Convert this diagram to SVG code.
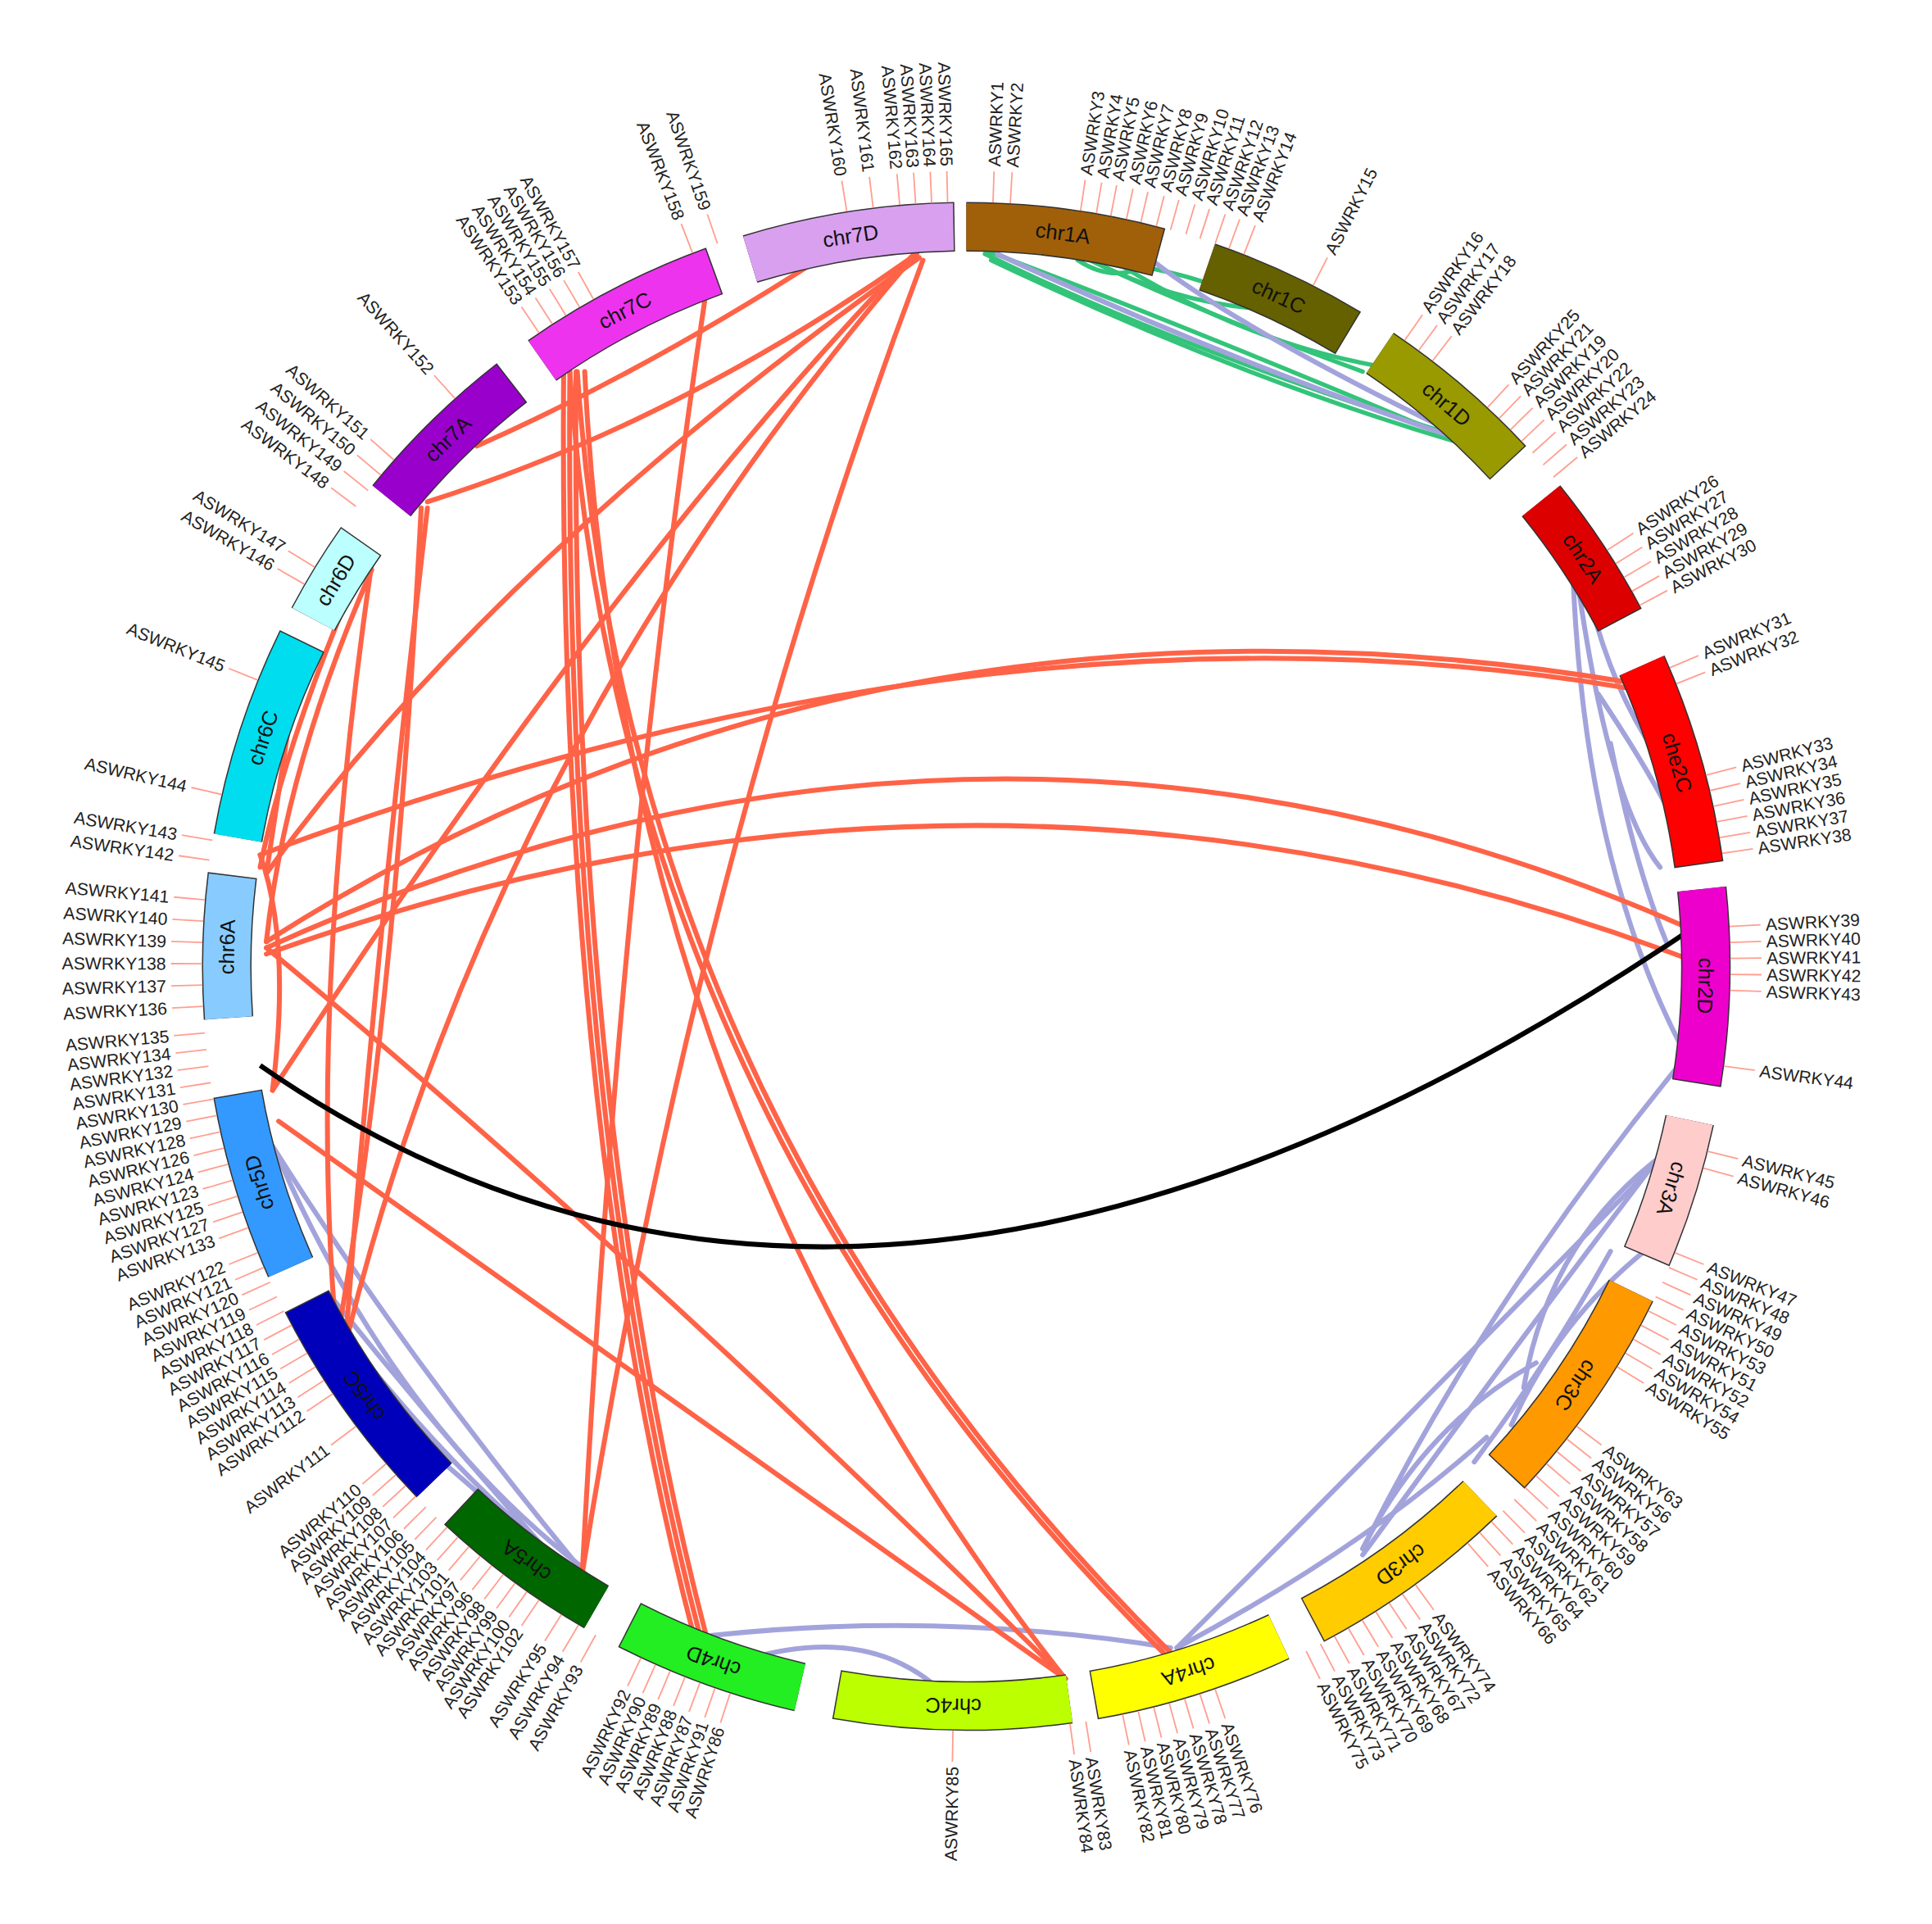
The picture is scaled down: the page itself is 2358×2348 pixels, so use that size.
<svg xmlns="http://www.w3.org/2000/svg" width="2358" height="2348" viewBox="0 0 2358 2348">
<style>
.t{font-family:"Liberation Sans",Arial,sans-serif;font-size:14px;fill:#222;dominant-baseline:central}
.l{text-anchor:end}
.tk{stroke:#ff9f90;stroke-width:1.2}
.cl{font-family:"Liberation Sans",Arial,sans-serif;font-size:17px;fill:#111;text-anchor:middle;dominant-baseline:central}
.blk{fill:none;stroke-width:38}
.bd{fill:none;stroke:#333;stroke-width:40}
.o{fill:none;stroke:#ff6347;stroke-width:4;stroke-linecap:round}
.v{fill:none;stroke:#a3a3dc;stroke-width:4;stroke-linecap:round}
.g{fill:none;stroke:#33c47a;stroke-width:3.5;stroke-linecap:round}
.k{fill:none;stroke:#000;stroke-width:4}
</style>
<rect width="2358" height="2348" fill="#fff"/>
<g transform="scale(1.512)">
<g id="connectors">
<path class="g" d="M790,200 Q950,260 1175,355"/>
<path class="g" d="M795,205 Q960,285 1170,350"/>
<path class="g" d="M800,210 Q1000,305 1180,358"/>
<path class="g" d="M870,205 Q950,245 1100,300"/>
<path class="g" d="M880,210 Q960,250 1040,250"/>
<path class="g" d="M920,215 Q980,225 1020,250"/>
<path class="g" d="M890,205 Q1000,275 1110,295"/>
<path class="g" d="M870,210 Q900,230 930,212"/>
<path class="v" d="M805,205 Q1000,295 1180,355"/>
<path class="v" d="M930,210 Q1000,265 1175,350"/>
<path class="v" d="M1270,470 Q1280,700 1360,850"/>
<path class="v" d="M1275,480 Q1300,650 1340,700"/>
<path class="v" d="M1280,470 Q1300,560 1345,620"/>
<path class="v" d="M1290,560 Q1330,620 1350,660"/>
<path class="v" d="M1300,600 Q1320,700 1345,760"/>
<path class="v" d="M1355,860 Q1200,1050 1100,1250"/>
<path class="v" d="M1350,920 Q1250,1050 1100,1255"/>
<path class="v" d="M1350,925 Q1180,1100 950,1330"/>
<path class="v" d="M1345,930 Q1250,1000 1230,1120"/>
<path class="v" d="M1340,1000 Q1260,1060 1220,1150"/>
<path class="v" d="M1300,1010 Q1250,1100 1190,1180"/>
<path class="v" d="M1240,1100 Q1150,1150 1100,1250"/>
<path class="v" d="M950,1330 Q1100,1250 1200,1160"/>
<path class="v" d="M575,1320 Q760,1300 945,1330"/>
<path class="v" d="M600,1340 Q700,1310 760,1365"/>
<path class="v" d="M220,925 Q330,1100 480,1280"/>
<path class="v" d="M225,935 Q320,1150 470,1265"/>
<path class="v" d="M270,1050 Q350,1150 440,1250"/>
<path class="v" d="M280,1080 Q360,1180 430,1240"/>
<path class="v" d="M300,1130 Q380,1200 450,1260"/>
<path class="o" d="M663,208 Q520,300 385,360"/>
<path class="o" d="M740,205 Q550,340 345,405"/>
<path class="o" d="M742,208 Q400,450 215,705"/>
<path class="o" d="M738,205 Q500,450 220,880"/>
<path class="o" d="M735,210 Q400,600 280,1080"/>
<path class="o" d="M745,210 Q560,700 470,1270"/>
<path class="o" d="M570,235 Q500,700 470,1270"/>
<path class="o" d="M455,300 Q450,900 560,1320"/>
<path class="o" d="M460,300 Q455,900 565,1320"/>
<path class="o" d="M465,300 Q460,900 570,1320"/>
<path class="o" d="M460,300 Q500,900 940,1335"/>
<path class="o" d="M466,300 Q506,900 946,1335"/>
<path class="o" d="M472,300 Q500,900 860,1355"/>
<path class="o" d="M1310,550 Q700,450 215,760"/>
<path class="o" d="M1312,555 Q800,470 210,690"/>
<path class="o" d="M1365,750 Q800,500 215,765"/>
<path class="o" d="M1365,775 Q800,560 215,770"/>
<path class="o" d="M215,765 Q500,1000 860,1355"/>
<path class="o" d="M225,905 Q500,1100 860,1355"/>
<path class="o" d="M300,455 Q250,800 270,1060"/>
<path class="o" d="M345,410 Q300,800 280,1070"/>
<path class="o" d="M340,410 Q320,800 275,1065"/>
<path class="o" d="M240,540 Q225,640 215,705"/>
<path class="o" d="M290,460 Q230,600 210,700"/>
<path class="o" d="M300,460 Q230,620 215,760"/>
<path class="o" d="M210,690 Q235,760 220,880"/>
<path class="k" d="M1365,750 Q700,1200 210,860"/>
</g>
<g transform="translate(780,780)">
<g id="chr1A"><circle class="bd" r="597" stroke-dasharray="158.3 4000" stroke-dashoffset="1" transform="rotate(-90)"/><circle class="blk" r="597" stroke="#a0600a" stroke-dasharray="156.3 4000" transform="rotate(-90)"/><text class="cl" y="-597" transform="rotate(7.5)">chr1A</text></g>
<g id="chr1C"><circle class="bd" r="597" stroke-dasharray="127 4000" stroke-dashoffset="1" transform="rotate(-71)"/><circle class="blk" r="597" stroke="#656000" stroke-dasharray="125 4000" transform="rotate(-71)"/><text class="cl" y="-597" transform="rotate(25)">chr1C</text></g>
<g id="chr1D"><circle class="bd" r="597" stroke-dasharray="137.5 4000" stroke-dashoffset="1" transform="rotate(-56)"/><circle class="blk" r="597" stroke="#999900" stroke-dasharray="135.5 4000" transform="rotate(-56)"/><text class="cl" y="-597" transform="rotate(40.5)">chr1D</text></g>
<g id="chr2A"><circle class="bd" r="597" stroke-dasharray="116.6 4000" stroke-dashoffset="1" transform="rotate(-39)"/><circle class="blk" r="597" stroke="#dd0000" stroke-dasharray="114.6 4000" transform="rotate(-39)"/><text class="cl" y="-597" transform="rotate(56.5)">chr2A</text></g>
<g id="chr2C"><circle class="bd" r="597" stroke-dasharray="168.7 4000" stroke-dashoffset="1" transform="rotate(-24)"/><circle class="blk" r="597" stroke="#ff0000" stroke-dasharray="166.7 4000" transform="rotate(-24)"/><text class="cl" y="-597" transform="rotate(74)">che2C</text></g>
<g id="chr2D"><circle class="bd" r="597" stroke-dasharray="158.3 4000" stroke-dashoffset="1" transform="rotate(-6)"/><circle class="blk" r="597" stroke="#ee00cc" stroke-dasharray="156.3 4000" transform="rotate(-6)"/><text class="cl" y="-597" transform="rotate(91.5)">chr2D</text></g>
<g id="chr3A"><circle class="bd" r="597" stroke-dasharray="116.6 4000" stroke-dashoffset="1" transform="rotate(12)"/><circle class="blk" r="597" stroke="#ffcccc" stroke-dasharray="114.6 4000" transform="rotate(12)"/><text class="cl" y="-597" transform="rotate(107.5)">chr3A</text></g>
<g id="chr3C"><circle class="bd" r="597" stroke-dasharray="179.1 4000" stroke-dashoffset="1" transform="rotate(26)"/><circle class="blk" r="597" stroke="#ff9900" stroke-dasharray="177.1 4000" transform="rotate(26)"/><text class="cl" y="-597" transform="rotate(124.5)">chr3C</text></g>
<g id="chr3D"><circle class="bd" r="597" stroke-dasharray="168.7 4000" stroke-dashoffset="1" transform="rotate(46)"/><circle class="blk" r="597" stroke="#ffcc00" stroke-dasharray="166.7 4000" transform="rotate(46)"/><text class="cl" y="-597" transform="rotate(144)">chr3D</text></g>
<g id="chr4A"><circle class="bd" r="597" stroke-dasharray="158.3 4000" stroke-dashoffset="1" transform="rotate(65)"/><circle class="blk" r="597" stroke="#ffff00" stroke-dasharray="156.3 4000" transform="rotate(65)"/><text class="cl" y="-597" transform="rotate(162.5)">chr4A</text></g>
<g id="chr4C"><circle class="bd" r="597" stroke-dasharray="189.6 4000" stroke-dashoffset="1" transform="rotate(82)"/><circle class="blk" r="597" stroke="#bbff00" stroke-dasharray="187.6 4000" transform="rotate(82)"/><text class="cl" y="-597" transform="rotate(181)">chr4C</text></g>
<g id="chr4D"><circle class="bd" r="597" stroke-dasharray="147.9 4000" stroke-dashoffset="1" transform="rotate(103)"/><circle class="blk" r="597" stroke="#22ee22" stroke-dasharray="145.9 4000" transform="rotate(103)"/><text class="cl" y="-597" transform="rotate(200)">chr4D</text></g>
<g id="chr5A"><circle class="bd" r="597" stroke-dasharray="137.5 4000" stroke-dashoffset="1" transform="rotate(120)"/><circle class="blk" r="597" stroke="#006600" stroke-dasharray="135.5 4000" transform="rotate(120)"/><text class="cl" y="-597" transform="rotate(216.5)">chr5A</text></g>
<g id="chr5C"><circle class="bd" r="597" stroke-dasharray="179.1 4000" stroke-dashoffset="1" transform="rotate(136)"/><circle class="blk" r="597" stroke="#0000bb" stroke-dasharray="177.1 4000" transform="rotate(136)"/><text class="cl" y="-597" transform="rotate(234.5)">chr5C</text></g>
<g id="chr5D"><circle class="bd" r="597" stroke-dasharray="147.9 4000" stroke-dashoffset="1" transform="rotate(156)"/><circle class="blk" r="597" stroke="#3399ff" stroke-dasharray="145.9 4000" transform="rotate(156)"/><text class="cl" y="-597" transform="rotate(253)">chr5D</text></g>
<g id="chr6A"><circle class="bd" r="597" stroke-dasharray="116.6 4000" stroke-dashoffset="1" transform="rotate(176)"/><circle class="blk" r="597" stroke="#88ccff" stroke-dasharray="114.6 4000" transform="rotate(176)"/><text class="cl" y="-597" transform="rotate(271.5)">chr6A</text></g>
<g id="chr6C"><circle class="bd" r="597" stroke-dasharray="168.7 4000" stroke-dashoffset="1" transform="rotate(190)"/><circle class="blk" r="597" stroke="#00ddee" stroke-dasharray="166.7 4000" transform="rotate(190)"/><text class="cl" y="-597" transform="rotate(288)">chr6C</text></g>
<g id="chr6D"><circle class="bd" r="597" stroke-dasharray="75 4000" stroke-dashoffset="1" transform="rotate(208)"/><circle class="blk" r="597" stroke="#bbffff" stroke-dasharray="73 4000" transform="rotate(208)"/><text class="cl" y="-597" transform="rotate(301.5)">chr6D</text></g>
<g id="chr7A"><circle class="bd" r="597" stroke-dasharray="137.5 4000" stroke-dashoffset="1" transform="rotate(219)"/><circle class="blk" r="597" stroke="#9900cc" stroke-dasharray="135.5 4000" transform="rotate(219)"/><text class="cl" y="-597" transform="rotate(315.5)">chr7A</text></g>
<g id="chr7C"><circle class="bd" r="597" stroke-dasharray="158.3 4000" stroke-dashoffset="1" transform="rotate(235)"/><circle class="blk" r="597" stroke="#ee33ee" stroke-dasharray="156.3 4000" transform="rotate(235)"/><text class="cl" y="-597" transform="rotate(332.5)">chr7C</text></g>
<g id="chr7D"><circle class="bd" r="597" stroke-dasharray="168.7 4000" stroke-dashoffset="1" transform="rotate(253)"/><circle class="blk" r="597" stroke="#d9a0f0" stroke-dasharray="166.7 4000" transform="rotate(253)"/><text class="cl" y="-597" transform="rotate(351)">chr7D</text></g>
<g id="labels-right">
<g transform="rotate(-88)"><line class="tk" x1="617" x2="642"/><text class="t" x="646">ASWRKY1</text></g>
<g transform="rotate(-86.7)"><line class="tk" x1="617" x2="642"/><text class="t" x="646">ASWRKY2</text></g>
<g transform="rotate(-81.4)"><line class="tk" x1="617" x2="642"/><text class="t" x="646">ASWRKY3</text></g>
<g transform="rotate(-80.2)"><line class="tk" x1="617" x2="642"/><text class="t" x="646">ASWRKY4</text></g>
<g transform="rotate(-79.1)"><line class="tk" x1="617" x2="642"/><text class="t" x="646">ASWRKY5</text></g>
<g transform="rotate(-77.9)"><line class="tk" x1="617" x2="642"/><text class="t" x="646">ASWRKY6</text></g>
<g transform="rotate(-76.8)"><line class="tk" x1="617" x2="642"/><text class="t" x="646">ASWRKY7</text></g>
<g transform="rotate(-75.6)"><line class="tk" x1="617" x2="642"/><text class="t" x="646">ASWRKY8</text></g>
<g transform="rotate(-74.5)"><line class="tk" x1="617" x2="642"/><text class="t" x="646">ASWRKY9</text></g>
<g transform="rotate(-73.3)"><line class="tk" x1="617" x2="642"/><text class="t" x="646">ASWRKY10</text></g>
<g transform="rotate(-72.2)"><line class="tk" x1="617" x2="642"/><text class="t" x="646">ASWRKY11</text></g>
<g transform="rotate(-71)"><line class="tk" x1="617" x2="642"/><text class="t" x="646">ASWRKY12</text></g>
<g transform="rotate(-69.9)"><line class="tk" x1="617" x2="642"/><text class="t" x="646">ASWRKY13</text></g>
<g transform="rotate(-68.7)"><line class="tk" x1="617" x2="642"/><text class="t" x="646">ASWRKY14</text></g>
<g transform="rotate(-63)"><line class="tk" x1="617" x2="642"/><text class="t" x="646">ASWRKY15</text></g>
<g transform="rotate(-55)"><line class="tk" x1="617" x2="642"/><text class="t" x="646">ASWRKY16</text></g>
<g transform="rotate(-53.7)"><line class="tk" x1="617" x2="642"/><text class="t" x="646">ASWRKY17</text></g>
<g transform="rotate(-52.4)"><line class="tk" x1="617" x2="642"/><text class="t" x="646">ASWRKY18</text></g>
<g transform="rotate(-47)"><line class="tk" x1="617" x2="642"/><text class="t" x="646">ASWRKY25</text></g>
<g transform="rotate(-45.8)"><line class="tk" x1="617" x2="642"/><text class="t" x="646">ASWRKY21</text></g>
<g transform="rotate(-44.6)"><line class="tk" x1="617" x2="642"/><text class="t" x="646">ASWRKY19</text></g>
<g transform="rotate(-43.4)"><line class="tk" x1="617" x2="642"/><text class="t" x="646">ASWRKY20</text></g>
<g transform="rotate(-42.2)"><line class="tk" x1="617" x2="642"/><text class="t" x="646">ASWRKY22</text></g>
<g transform="rotate(-41)"><line class="tk" x1="617" x2="642"/><text class="t" x="646">ASWRKY23</text></g>
<g transform="rotate(-39.8)"><line class="tk" x1="617" x2="642"/><text class="t" x="646">ASWRKY24</text></g>
<g transform="rotate(-33)"><line class="tk" x1="617" x2="642"/><text class="t" x="646">ASWRKY26</text></g>
<g transform="rotate(-31.8)"><line class="tk" x1="617" x2="642"/><text class="t" x="646">ASWRKY27</text></g>
<g transform="rotate(-30.6)"><line class="tk" x1="617" x2="642"/><text class="t" x="646">ASWRKY28</text></g>
<g transform="rotate(-29.4)"><line class="tk" x1="617" x2="642"/><text class="t" x="646">ASWRKY29</text></g>
<g transform="rotate(-28.2)"><line class="tk" x1="617" x2="642"/><text class="t" x="646">ASWRKY30</text></g>
<g transform="rotate(-23)"><line class="tk" x1="617" x2="642"/><text class="t" x="646">ASWRKY31</text></g>
<g transform="rotate(-21.7)"><line class="tk" x1="617" x2="642"/><text class="t" x="646">ASWRKY32</text></g>
<g transform="rotate(-14.5)"><line class="tk" x1="617" x2="642"/><text class="t" x="646">ASWRKY33</text></g>
<g transform="rotate(-13.3)"><line class="tk" x1="617" x2="642"/><text class="t" x="646">ASWRKY34</text></g>
<g transform="rotate(-12.1)"><line class="tk" x1="617" x2="642"/><text class="t" x="646">ASWRKY35</text></g>
<g transform="rotate(-10.9)"><line class="tk" x1="617" x2="642"/><text class="t" x="646">ASWRKY36</text></g>
<g transform="rotate(-9.7)"><line class="tk" x1="617" x2="642"/><text class="t" x="646">ASWRKY37</text></g>
<g transform="rotate(-8.5)"><line class="tk" x1="617" x2="642"/><text class="t" x="646">ASWRKY38</text></g>
<g transform="rotate(-3)"><line class="tk" x1="617" x2="642"/><text class="t" x="646">ASWRKY39</text></g>
<g transform="rotate(-1.8)"><line class="tk" x1="617" x2="642"/><text class="t" x="646">ASWRKY40</text></g>
<g transform="rotate(-0.6)"><line class="tk" x1="617" x2="642"/><text class="t" x="646">ASWRKY41</text></g>
<g transform="rotate(0.6)"><line class="tk" x1="617" x2="642"/><text class="t" x="646">ASWRKY42</text></g>
<g transform="rotate(1.8)"><line class="tk" x1="617" x2="642"/><text class="t" x="646">ASWRKY43</text></g>
<g transform="rotate(7.5)"><line class="tk" x1="617" x2="642"/><text class="t" x="646">ASWRKY44</text></g>
<g transform="rotate(14)"><line class="tk" x1="617" x2="642"/><text class="t" x="646">ASWRKY45</text></g>
<g transform="rotate(15.3)"><line class="tk" x1="617" x2="642"/><text class="t" x="646">ASWRKY46</text></g>
<g transform="rotate(22)"><line class="tk" x1="617" x2="642"/><text class="t" x="646">ASWRKY47</text></g>
<g transform="rotate(23.2)"><line class="tk" x1="617" x2="642"/><text class="t" x="646">ASWRKY48</text></g>
<g transform="rotate(24.4)"><line class="tk" x1="617" x2="642"/><text class="t" x="646">ASWRKY49</text></g>
<g transform="rotate(25.6)"><line class="tk" x1="617" x2="642"/><text class="t" x="646">ASWRKY50</text></g>
<g transform="rotate(26.8)"><line class="tk" x1="617" x2="642"/><text class="t" x="646">ASWRKY53</text></g>
<g transform="rotate(28)"><line class="tk" x1="617" x2="642"/><text class="t" x="646">ASWRKY51</text></g>
<g transform="rotate(29.2)"><line class="tk" x1="617" x2="642"/><text class="t" x="646">ASWRKY52</text></g>
<g transform="rotate(30.4)"><line class="tk" x1="617" x2="642"/><text class="t" x="646">ASWRKY54</text></g>
<g transform="rotate(31.6)"><line class="tk" x1="617" x2="642"/><text class="t" x="646">ASWRKY55</text></g>
<g transform="rotate(37)"><line class="tk" x1="617" x2="642"/><text class="t" x="646">ASWRKY63</text></g>
<g transform="rotate(38.2)"><line class="tk" x1="617" x2="642"/><text class="t" x="646">ASWRKY56</text></g>
<g transform="rotate(39.4)"><line class="tk" x1="617" x2="642"/><text class="t" x="646">ASWRKY57</text></g>
<g transform="rotate(40.6)"><line class="tk" x1="617" x2="642"/><text class="t" x="646">ASWRKY58</text></g>
<g transform="rotate(41.8)"><line class="tk" x1="617" x2="642"/><text class="t" x="646">ASWRKY59</text></g>
<g transform="rotate(43)"><line class="tk" x1="617" x2="642"/><text class="t" x="646">ASWRKY60</text></g>
<g transform="rotate(44.2)"><line class="tk" x1="617" x2="642"/><text class="t" x="646">ASWRKY61</text></g>
<g transform="rotate(45.4)"><line class="tk" x1="617" x2="642"/><text class="t" x="646">ASWRKY62</text></g>
<g transform="rotate(46.6)"><line class="tk" x1="617" x2="642"/><text class="t" x="646">ASWRKY64</text></g>
<g transform="rotate(47.8)"><line class="tk" x1="617" x2="642"/><text class="t" x="646">ASWRKY65</text></g>
<g transform="rotate(49)"><line class="tk" x1="617" x2="642"/><text class="t" x="646">ASWRKY66</text></g>
<g transform="rotate(54)"><line class="tk" x1="617" x2="642"/><text class="t" x="646">ASWRKY74</text></g>
<g transform="rotate(55.2)"><line class="tk" x1="617" x2="642"/><text class="t" x="646">ASWRKY72</text></g>
<g transform="rotate(56.4)"><line class="tk" x1="617" x2="642"/><text class="t" x="646">ASWRKY67</text></g>
<g transform="rotate(57.6)"><line class="tk" x1="617" x2="642"/><text class="t" x="646">ASWRKY68</text></g>
<g transform="rotate(58.8)"><line class="tk" x1="617" x2="642"/><text class="t" x="646">ASWRKY69</text></g>
<g transform="rotate(60)"><line class="tk" x1="617" x2="642"/><text class="t" x="646">ASWRKY70</text></g>
<g transform="rotate(61.2)"><line class="tk" x1="617" x2="642"/><text class="t" x="646">ASWRKY71</text></g>
<g transform="rotate(62.4)"><line class="tk" x1="617" x2="642"/><text class="t" x="646">ASWRKY73</text></g>
<g transform="rotate(63.6)"><line class="tk" x1="617" x2="642"/><text class="t" x="646">ASWRKY75</text></g>
<g transform="rotate(71)"><line class="tk" x1="617" x2="642"/><text class="t" x="646">ASWRKY76</text></g>
<g transform="rotate(72.2)"><line class="tk" x1="617" x2="642"/><text class="t" x="646">ASWRKY77</text></g>
<g transform="rotate(73.4)"><line class="tk" x1="617" x2="642"/><text class="t" x="646">ASWRKY78</text></g>
<g transform="rotate(74.6)"><line class="tk" x1="617" x2="642"/><text class="t" x="646">ASWRKY79</text></g>
<g transform="rotate(75.8)"><line class="tk" x1="617" x2="642"/><text class="t" x="646">ASWRKY80</text></g>
<g transform="rotate(77)"><line class="tk" x1="617" x2="642"/><text class="t" x="646">ASWRKY81</text></g>
<g transform="rotate(78.2)"><line class="tk" x1="617" x2="642"/><text class="t" x="646">ASWRKY82</text></g>
<g transform="rotate(81)"><line class="tk" x1="617" x2="642"/><text class="t" x="646">ASWRKY83</text></g>
<g transform="rotate(82.2)"><line class="tk" x1="617" x2="642"/><text class="t" x="646">ASWRKY84</text></g>
</g>
<g id="labels-left">
<g transform="rotate(271)"><line class="tk" x1="-617" x2="-642"/><text class="t l" x="-646">ASWRKY85</text></g>
<g transform="rotate(288)"><line class="tk" x1="-617" x2="-642"/><text class="t l" x="-646">ASWRKY86</text></g>
<g transform="rotate(289.2)"><line class="tk" x1="-617" x2="-642"/><text class="t l" x="-646">ASWRKY91</text></g>
<g transform="rotate(290.4)"><line class="tk" x1="-617" x2="-642"/><text class="t l" x="-646">ASWRKY87</text></g>
<g transform="rotate(291.6)"><line class="tk" x1="-617" x2="-642"/><text class="t l" x="-646">ASWRKY88</text></g>
<g transform="rotate(292.8)"><line class="tk" x1="-617" x2="-642"/><text class="t l" x="-646">ASWRKY89</text></g>
<g transform="rotate(294)"><line class="tk" x1="-617" x2="-642"/><text class="t l" x="-646">ASWRKY90</text></g>
<g transform="rotate(295.2)"><line class="tk" x1="-617" x2="-642"/><text class="t l" x="-646">ASWRKY92</text></g>
<g transform="rotate(299)"><line class="tk" x1="-617" x2="-642"/><text class="t l" x="-646">ASWRKY93</text></g>
<g transform="rotate(300.5)"><line class="tk" x1="-617" x2="-642"/><text class="t l" x="-646">ASWRKY94</text></g>
<g transform="rotate(302)"><line class="tk" x1="-617" x2="-642"/><text class="t l" x="-646">ASWRKY95</text></g>
<g transform="rotate(304)"><line class="tk" x1="-617" x2="-642"/><text class="t l" x="-646">ASWRKY102</text></g>
<g transform="rotate(305.1)"><line class="tk" x1="-617" x2="-642"/><text class="t l" x="-646">ASWRKY100</text></g>
<g transform="rotate(306.2)"><line class="tk" x1="-617" x2="-642"/><text class="t l" x="-646">ASWRKY99</text></g>
<g transform="rotate(307.3)"><line class="tk" x1="-617" x2="-642"/><text class="t l" x="-646">ASWRKY98</text></g>
<g transform="rotate(308.4)"><line class="tk" x1="-617" x2="-642"/><text class="t l" x="-646">ASWRKY96</text></g>
<g transform="rotate(309.5)"><line class="tk" x1="-617" x2="-642"/><text class="t l" x="-646">ASWRKY97</text></g>
<g transform="rotate(310.6)"><line class="tk" x1="-617" x2="-642"/><text class="t l" x="-646">ASWRKY101</text></g>
<g transform="rotate(311.7)"><line class="tk" x1="-617" x2="-642"/><text class="t l" x="-646">ASWRKY103</text></g>
<g transform="rotate(312.8)"><line class="tk" x1="-617" x2="-642"/><text class="t l" x="-646">ASWRKY104</text></g>
<g transform="rotate(313.9)"><line class="tk" x1="-617" x2="-642"/><text class="t l" x="-646">ASWRKY105</text></g>
<g transform="rotate(315)"><line class="tk" x1="-617" x2="-642"/><text class="t l" x="-646">ASWRKY106</text></g>
<g transform="rotate(316.1)"><line class="tk" x1="-617" x2="-642"/><text class="t l" x="-646">ASWRKY107</text></g>
<g transform="rotate(317.2)"><line class="tk" x1="-617" x2="-642"/><text class="t l" x="-646">ASWRKY108</text></g>
<g transform="rotate(318.3)"><line class="tk" x1="-617" x2="-642"/><text class="t l" x="-646">ASWRKY109</text></g>
<g transform="rotate(319.4)"><line class="tk" x1="-617" x2="-642"/><text class="t l" x="-646">ASWRKY110</text></g>
<g transform="rotate(323)"><line class="tk" x1="-617" x2="-642"/><text class="t l" x="-646">ASWRKY111</text></g>
<g transform="rotate(326)"><line class="tk" x1="-617" x2="-642"/><text class="t l" x="-646">ASWRKY112</text></g>
<g transform="rotate(327.2)"><line class="tk" x1="-617" x2="-642"/><text class="t l" x="-646">ASWRKY113</text></g>
<g transform="rotate(328.4)"><line class="tk" x1="-617" x2="-642"/><text class="t l" x="-646">ASWRKY114</text></g>
<g transform="rotate(329.6)"><line class="tk" x1="-617" x2="-642"/><text class="t l" x="-646">ASWRKY115</text></g>
<g transform="rotate(330.8)"><line class="tk" x1="-617" x2="-642"/><text class="t l" x="-646">ASWRKY116</text></g>
<g transform="rotate(332)"><line class="tk" x1="-617" x2="-642"/><text class="t l" x="-646">ASWRKY117</text></g>
<g transform="rotate(333.2)"><line class="tk" x1="-617" x2="-642"/><text class="t l" x="-646">ASWRKY118</text></g>
<g transform="rotate(334.4)"><line class="tk" x1="-617" x2="-642"/><text class="t l" x="-646">ASWRKY119</text></g>
<g transform="rotate(335.6)"><line class="tk" x1="-617" x2="-642"/><text class="t l" x="-646">ASWRKY120</text></g>
<g transform="rotate(336.8)"><line class="tk" x1="-617" x2="-642"/><text class="t l" x="-646">ASWRKY121</text></g>
<g transform="rotate(338)"><line class="tk" x1="-617" x2="-642"/><text class="t l" x="-646">ASWRKY122</text></g>
<g transform="rotate(340)"><line class="tk" x1="-617" x2="-642"/><text class="t l" x="-646">ASWRKY133</text></g>
<g transform="rotate(341.25)"><line class="tk" x1="-617" x2="-642"/><text class="t l" x="-646">ASWRKY127</text></g>
<g transform="rotate(342.5)"><line class="tk" x1="-617" x2="-642"/><text class="t l" x="-646">ASWRKY125</text></g>
<g transform="rotate(343.75)"><line class="tk" x1="-617" x2="-642"/><text class="t l" x="-646">ASWRKY123</text></g>
<g transform="rotate(345)"><line class="tk" x1="-617" x2="-642"/><text class="t l" x="-646">ASWRKY124</text></g>
<g transform="rotate(346.25)"><line class="tk" x1="-617" x2="-642"/><text class="t l" x="-646">ASWRKY126</text></g>
<g transform="rotate(347.5)"><line class="tk" x1="-617" x2="-642"/><text class="t l" x="-646">ASWRKY128</text></g>
<g transform="rotate(348.75)"><line class="tk" x1="-617" x2="-642"/><text class="t l" x="-646">ASWRKY129</text></g>
<g transform="rotate(350)"><line class="tk" x1="-617" x2="-642"/><text class="t l" x="-646">ASWRKY130</text></g>
<g transform="rotate(351.25)"><line class="tk" x1="-617" x2="-642"/><text class="t l" x="-646">ASWRKY131</text></g>
<g transform="rotate(352.5)"><line class="tk" x1="-617" x2="-642"/><text class="t l" x="-646">ASWRKY132</text></g>
<g transform="rotate(353.75)"><line class="tk" x1="-617" x2="-642"/><text class="t l" x="-646">ASWRKY134</text></g>
<g transform="rotate(355)"><line class="tk" x1="-617" x2="-642"/><text class="t l" x="-646">ASWRKY135</text></g>
<g transform="rotate(357)"><line class="tk" x1="-617" x2="-642"/><text class="t l" x="-646">ASWRKY136</text></g>
<g transform="rotate(358.6)"><line class="tk" x1="-617" x2="-642"/><text class="t l" x="-646">ASWRKY137</text></g>
<g transform="rotate(360.2)"><line class="tk" x1="-617" x2="-642"/><text class="t l" x="-646">ASWRKY138</text></g>
<g transform="rotate(361.8)"><line class="tk" x1="-617" x2="-642"/><text class="t l" x="-646">ASWRKY139</text></g>
<g transform="rotate(363.4)"><line class="tk" x1="-617" x2="-642"/><text class="t l" x="-646">ASWRKY140</text></g>
<g transform="rotate(365)"><line class="tk" x1="-617" x2="-642"/><text class="t l" x="-646">ASWRKY141</text></g>
<g transform="rotate(368)"><line class="tk" x1="-617" x2="-642"/><text class="t l" x="-646">ASWRKY142</text></g>
<g transform="rotate(369.5)"><line class="tk" x1="-617" x2="-642"/><text class="t l" x="-646">ASWRKY143</text></g>
<g transform="rotate(373)"><line class="tk" x1="-617" x2="-642"/><text class="t l" x="-646">ASWRKY144</text></g>
<g transform="rotate(382)"><line class="tk" x1="-617" x2="-642"/><text class="t l" x="-646">ASWRKY145</text></g>
<g transform="rotate(390)"><line class="tk" x1="-617" x2="-642"/><text class="t l" x="-646">ASWRKY146</text></g>
<g transform="rotate(391.5)"><line class="tk" x1="-617" x2="-642"/><text class="t l" x="-646">ASWRKY147</text></g>
<g transform="rotate(397)"><line class="tk" x1="-617" x2="-642"/><text class="t l" x="-646">ASWRKY148</text></g>
<g transform="rotate(398.5)"><line class="tk" x1="-617" x2="-642"/><text class="t l" x="-646">ASWRKY149</text></g>
<g transform="rotate(400)"><line class="tk" x1="-617" x2="-642"/><text class="t l" x="-646">ASWRKY150</text></g>
<g transform="rotate(401.5)"><line class="tk" x1="-617" x2="-642"/><text class="t l" x="-646">ASWRKY151</text></g>
<g transform="rotate(408)"><line class="tk" x1="-617" x2="-642"/><text class="t l" x="-646">ASWRKY152</text></g>
<g transform="rotate(416)"><line class="tk" x1="-617" x2="-642"/><text class="t l" x="-646">ASWRKY153</text></g>
<g transform="rotate(417.2)"><line class="tk" x1="-617" x2="-642"/><text class="t l" x="-646">ASWRKY154</text></g>
<g transform="rotate(418.4)"><line class="tk" x1="-617" x2="-642"/><text class="t l" x="-646">ASWRKY155</text></g>
<g transform="rotate(419.6)"><line class="tk" x1="-617" x2="-642"/><text class="t l" x="-646">ASWRKY156</text></g>
<g transform="rotate(420.8)"><line class="tk" x1="-617" x2="-642"/><text class="t l" x="-646">ASWRKY157</text></g>
<g transform="rotate(429)"><line class="tk" x1="-617" x2="-642"/><text class="t l" x="-646">ASWRKY158</text></g>
<g transform="rotate(431)"><line class="tk" x1="-617" x2="-642"/><text class="t l" x="-646">ASWRKY159</text></g>
<g transform="rotate(441)"><line class="tk" x1="-617" x2="-642"/><text class="t l" x="-646">ASWRKY160</text></g>
<g transform="rotate(443)"><line class="tk" x1="-617" x2="-642"/><text class="t l" x="-646">ASWRKY161</text></g>
<g transform="rotate(445)"><line class="tk" x1="-617" x2="-642"/><text class="t l" x="-646">ASWRKY162</text></g>
<g transform="rotate(446.2)"><line class="tk" x1="-617" x2="-642"/><text class="t l" x="-646">ASWRKY163</text></g>
<g transform="rotate(447.4)"><line class="tk" x1="-617" x2="-642"/><text class="t l" x="-646">ASWRKY164</text></g>
<g transform="rotate(448.6)"><line class="tk" x1="-617" x2="-642"/><text class="t l" x="-646">ASWRKY165</text></g>
</g>
</g>
</g>
</svg>
